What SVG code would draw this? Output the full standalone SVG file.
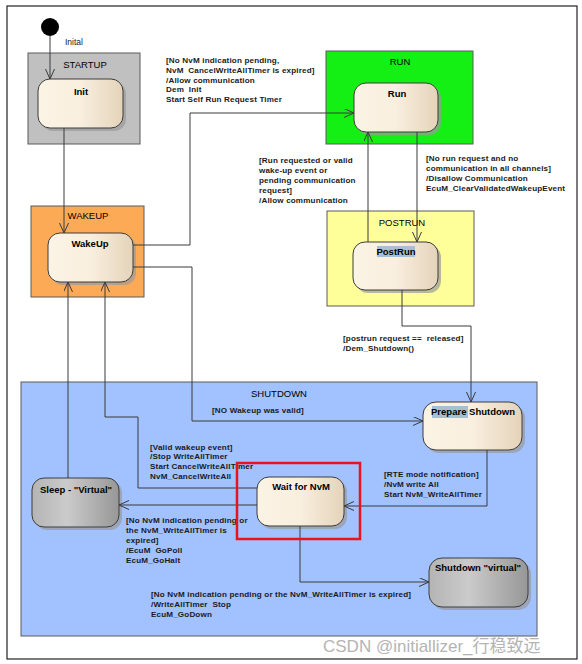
<svg xmlns="http://www.w3.org/2000/svg" width="582" height="664" viewBox="0 0 582 664">
<style>
.region{stroke:#5a5a5a;stroke-width:1}
.rtitle{font-family:"Liberation Sans",Arial,sans-serif;font-size:9.5px;fill:#000;text-anchor:middle}
.node{stroke:#3c3c3c;stroke-width:1}
.shadow{fill:#9a9a9a;opacity:0.7}
.ntitle{font-family:"Liberation Sans",Arial,sans-serif;font-size:9.5px;font-weight:bold;fill:#000;text-anchor:middle}
.lbl{font-family:"Liberation Sans",Arial,sans-serif;font-size:8.1px;letter-spacing:0.15px;font-weight:bold;fill:#1a1a1a;white-space:pre}
.conn{fill:none;stroke:#3a3a3a;stroke-width:1}
.hl{fill:#a4c0d2}
</style>
<defs>
<linearGradient id="cream" x1="0" y1="0" x2="1" y2="0">
<stop offset="0" stop-color="#fbf3e4"/>
<stop offset="0.5" stop-color="#f9efdf"/>
<stop offset="1" stop-color="#e4d3b9"/>
</linearGradient>
<linearGradient id="grey" x1="0" y1="0" x2="1" y2="0">
<stop offset="0" stop-color="#b4b4b4"/>
<stop offset="0.4" stop-color="#cbcbcb"/>
<stop offset="1" stop-color="#979797"/>
</linearGradient>
<marker id="arr" markerWidth="12" markerHeight="10" refX="10" refY="4.5" orient="auto" markerUnits="userSpaceOnUse">
<path d="M0,0 L10,4.5 L0,9" fill="none" stroke="#3a3a3a" stroke-width="1"/>
</marker>
</defs>
<rect x="0" y="0" width="582" height="664" fill="#ffffff"/>
<rect x="7" y="6" width="570" height="653" fill="#ffffff" stroke="#222" stroke-width="1.2"/>

<g id="region-startup">
<rect class="region" x="28" y="53" width="112" height="91" fill="#c0c0c0"/>
<text class="rtitle" x="85" y="68">STARTUP</text>
</g>
<g id="region-run">
<rect class="region" x="326" y="51" width="147" height="93" fill="#14ef14"/>
<text class="rtitle" x="400" y="65">RUN</text>
</g>
<g id="region-postrun">
<rect class="region" x="327" y="211" width="147" height="95" fill="#ffff99"/>
<text class="rtitle" x="402" y="226">POSTRUN</text>
</g>
<g id="region-wakeup">
<rect class="region" x="31" y="206" width="113" height="91" fill="#fdaa57"/>
<text class="rtitle" x="88" y="219">WAKEUP</text>
</g>
<g id="region-shutdown">
<rect class="region" x="21" y="382" width="516" height="254" fill="#a2c1ff" stroke="#707070"/>
<text class="rtitle" x="279" y="397">SHUTDOWN</text>
</g>

<g id="initial">
<circle cx="50" cy="27" r="9" fill="#000"/>
<text x="65" y="45" style="font-family:'Liberation Sans',Arial,sans-serif;font-size:8.5px;fill:#222">Inital</text>
</g>

<g id="node-init">
<rect class="shadow" x="41" y="82" width="85" height="49" rx="12"/>
<rect class="node" x="38" y="79" width="85" height="49" rx="12" fill="url(#cream)"/>
<text class="ntitle" x="81" y="95">Init</text>
</g>
<g id="node-run">
<rect class="shadow" x="357" y="86" width="84" height="49" rx="12"/>
<rect class="node" x="354" y="83" width="84" height="49" rx="12" fill="url(#cream)"/>
<text class="ntitle" x="397" y="97">Run</text>
</g>
<g id="node-postrun">
<rect class="shadow" x="356" y="245" width="85" height="48" rx="12"/>
<rect class="node" x="353" y="242" width="85" height="48" rx="12" fill="url(#cream)"/>
<rect class="hl" x="377" y="246" width="38" height="11"/>
<text class="ntitle" x="396" y="255">PostRun</text>
</g>
<g id="node-wakeup">
<rect class="shadow" x="51" y="236" width="85" height="49" rx="12"/>
<rect class="node" x="48" y="233" width="85" height="49" rx="12" fill="url(#cream)"/>
<text class="ntitle" x="90" y="247">WakeUp</text>
</g>
<g id="node-prepare">
<rect class="shadow" x="426" y="405" width="99" height="48" rx="13"/>
<rect class="node" x="423" y="402" width="99" height="48" rx="13" fill="url(#cream)"/>
<rect class="hl" x="432" y="406" width="36" height="12"/>
<text class="ntitle" x="473" y="415">Prepare Shutdown</text>
</g>
<g id="node-waitnvm">
<rect class="shadow" x="260" y="480" width="87" height="49" rx="12"/>
<rect class="node" x="257" y="477" width="87" height="49" rx="12" fill="url(#cream)"/>
<text class="ntitle" x="301" y="490">Wait for NvM</text>
</g>
<g id="node-sleep">
<rect class="shadow" x="35" y="481" width="87" height="49" rx="12"/>
<rect class="node" x="32" y="478" width="87" height="49" rx="12" fill="url(#grey)"/>
<text class="ntitle" x="76" y="493">Sleep - "Virtual"</text>
</g>
<g id="node-shutdownvirtual">
<rect class="shadow" x="432" y="561" width="99" height="49" rx="13"/>
<rect class="node" x="429" y="558" width="99" height="49" rx="13" fill="url(#grey)"/>
<text class="ntitle" x="478" y="571">Shutdown "virtual"</text>
</g>

<g id="connectors">
<path class="conn" d="M50,36 L50,79" marker-end="url(#arr)"/>
<path class="conn" d="M64,128 L64,233" marker-end="url(#arr)"/>
<path class="conn" d="M133,245 L190,245 L190,113 L354,113" marker-end="url(#arr)"/>
<path class="conn" d="M133,267 L192,267 L192,421 L423,421" marker-end="url(#arr)"/>
<path class="conn" d="M368,242 L368,132" marker-end="url(#arr)"/>
<path class="conn" d="M417,132 L417,242" marker-end="url(#arr)"/>
<path class="conn" d="M402,290 L402,326 L471,326 L471,402" marker-end="url(#arr)"/>
<path class="conn" d="M487,450 L487,506 L344,506" marker-end="url(#arr)"/>
<path class="conn" d="M257,505 L119,505" marker-end="url(#arr)"/>
<path class="conn" d="M257,488 L138,488 L138,417 L105,417 L105,282" marker-end="url(#arr)"/>
<path class="conn" d="M68,478 L68,282" marker-end="url(#arr)"/>
<path class="conn" d="M300,526 L300,582 L429,582" marker-end="url(#arr)"/>
</g>

<g id="labels">
<text class="lbl" x="166" y="63">[No NvM indication pending,</text>
<text class="lbl" x="166" y="73">NvM  CancelWriteAllTimer is expired]</text>
<text class="lbl" x="166" y="83">/Allow communication</text>
<text class="lbl" x="166" y="92">Dem  Init</text>
<text class="lbl" x="166" y="102">Start Self Run Request Timer</text>

<text class="lbl" x="259" y="163">[Run requested or valid</text>
<text class="lbl" x="259" y="173">wake-up event or</text>
<text class="lbl" x="259" y="183">pending communication</text>
<text class="lbl" x="259" y="193">request]</text>
<text class="lbl" x="259" y="203">/Allow communication</text>

<text class="lbl" x="426" y="161">[No run request and no</text>
<text class="lbl" x="426" y="171">communication in all channels]</text>
<text class="lbl" x="426" y="181">/Disallow Communication</text>
<text class="lbl" x="426" y="191">EcuM_ClearValidatedWakeupEvent</text>

<text class="lbl" x="343" y="341">[postrun request ==  released]</text>
<text class="lbl" x="343" y="351">/Dem_Shutdown()</text>

<text class="lbl" x="212" y="413">[NO Wakeup was valid]</text>

<text class="lbl" x="150" y="450">[Valid wakeup event]</text>
<text class="lbl" x="150" y="459">/Stop WriteAllTimer</text>
<text class="lbl" x="150" y="469">Start CancelWriteAllTimer</text>
<text class="lbl" x="150" y="479">NvM_CancelWriteAll</text>

<text class="lbl" x="384" y="477">[RTE mode notification]</text>
<text class="lbl" x="384" y="487">/NvM write All</text>
<text class="lbl" x="384" y="497">Start NvM_WriteAllTimer</text>

<text class="lbl" x="126" y="523">[No NvM indication pending or</text>
<text class="lbl" x="126" y="533">the NvM_WriteAllTimer is</text>
<text class="lbl" x="126" y="543">expired]</text>
<text class="lbl" x="126" y="553">/EcuM  GoPoll</text>
<text class="lbl" x="126" y="563">EcuM_GoHalt</text>

<text class="lbl" x="151" y="597">[No NvM indication pending or the NvM_WriteAllTimer is expired]</text>
<text class="lbl" x="151" y="607">/WriteAllTimer  Stop</text>
<text class="lbl" x="151" y="617">EcuM_GoDown</text>
</g>

<rect id="highlight" x="237" y="463" width="123" height="76" fill="none" stroke="#e8141c" stroke-width="2.5"/>

<text id="watermark" x="323" y="652" style="font-family:'Liberation Sans','Noto Sans CJK SC',sans-serif;font-size:17px;fill:#b4b4b4">CSDN @initiallizer_行稳致远</text>
</svg>
